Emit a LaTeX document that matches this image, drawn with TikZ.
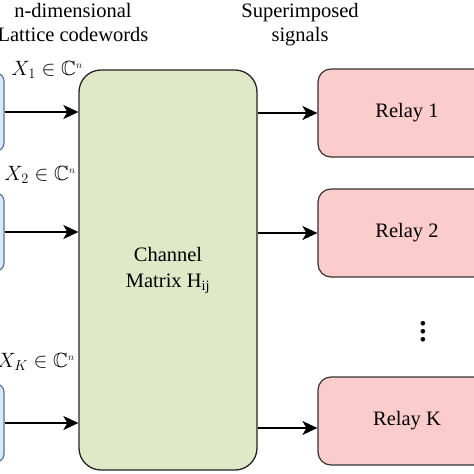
\documentclass[tikz,border=0pt]{standalone}
\usepackage{amsmath}
\usepackage{amssymb}
\usepackage{fontspec}
\setmainfont{Liberation Serif}
\usetikzlibrary{arrows.meta,positioning}
\definecolor{chgreen}{RGB}{223,232,199}
\definecolor{relaypink}{RGB}{250,204,204}
\definecolor{srcblue}{RGB}{218,232,252}
\definecolor{srcborder}{RGB}{80,120,170}
\tikzset{
  chan/.style={draw=black!85, fill=chgreen, rounded corners=22pt, line width=1.3pt,
    minimum width=178pt, minimum height=400pt, align=center},
  relay/.style={draw=black!80, fill=relaypink, rounded corners=13pt, line width=1.2pt,
    minimum width=178pt, minimum height=88pt, inner sep=0pt},
  src/.style={draw=srcborder, fill=srcblue, rounded corners=8pt, line width=1.2pt,
    minimum width=60pt, minimum height=78pt, inner sep=0pt},
  sig/.style={-{Stealth[length=15pt,width=14pt,inset=4pt]}, line width=1.5pt},
}

\begin{document}
\begin{tikzpicture}[x=1pt,y=-1pt,font=\fontsize{20.5}{24}\selectfont]
   \path[use as bounding box, clip] (0,0) rectangle (474,474);

   % sources (cut at the left edge)
   \node[src] (s1) at (-26,112) {};
   \node[src] (s2) at (-26,232) {};
   \node[src] (sK) at (-26,423) {};

   % channel
   \node[chan] (H) at (168,270) {Channel\\[2pt]Matrix H$_{\text{ij}}$};

   % relays
   \node[relay] (r1) at (407,113) {Relay 1};
   \node[relay] (r2) at (407,233) {Relay 2};
   \node[relay] (rK) at (407,421) {Relay K};
   \node[scale=1.9] (dots) at (423,326) {$\vdots$};

   % inputs
   \draw[sig] (s1.east) -- (H.west |- s1.east);
   \draw[sig] (s2.east) -- (H.west |- s2.east);
   \draw[sig] (sK.east) -- (H.west |- sK.east);
   \node (x1) at (47,70) {$X_1 \in \mathbb{C}^{\scriptscriptstyle n}$};
   \node (x2) at (40,175) {$X_2 \in \mathbb{C}^{\scriptscriptstyle n}$};
   \node (xK) at (36,362) {$X_K \in \mathbb{C}^{\scriptscriptstyle n}$};

   % outputs
   \draw[sig] (H.east |- r1.west) -- (r1.west);
   \draw[sig] (H.east |- r2.west) -- (r2.west);
   \draw[sig] (H.east |- 0,428) -- (rK.west |- 0,428);

   % headings
   \node[align=center] (lat) at (73,22) {n-dimensional\\Lattice codewords};
   \node[align=center] (sup) at (300,25) {Superimposed\\signals};
\end{tikzpicture}
\end{document}
